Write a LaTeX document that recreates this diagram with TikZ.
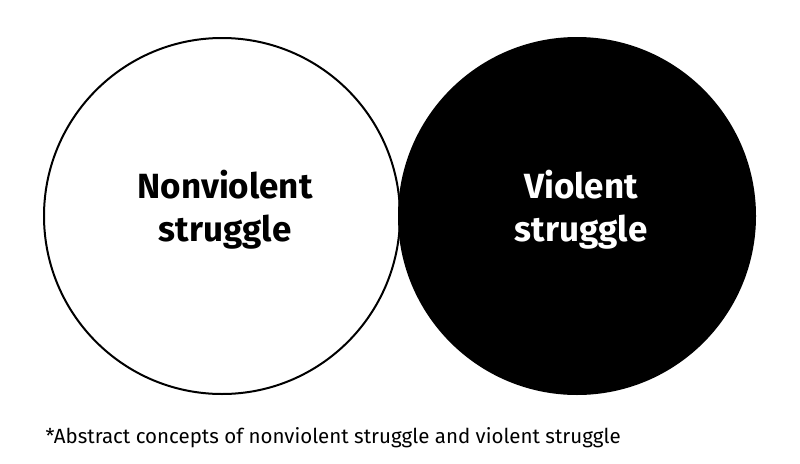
\documentclass[tikz,border=0pt]{standalone}
\usepackage{fontspec}
\setmainfont{Fira Sans}
\begin{document}
\begin{tikzpicture}[x=1pt,y=-1pt,
  circ/.style={circle, draw=black, line width=2pt, minimum size=356pt, inner sep=0pt},
  lbl/.style={font=\fontsize{35}{43}\selectfont\bfseries, align=center}]
\useasboundingbox (0,0) rectangle (800,463);
\node[circ, fill=white] (nv) at (222,216) {};
\node[circ, fill=black] (v) at (577,216) {};
\node[lbl, text=black] (nvt) at (225,210) {Nonviolent\\struggle};
\node[lbl, text=white] (vt) at (581,210) {Violent\\struggle};
\node[anchor=base west, font=\fontsize{20.5}{24}\selectfont] (fn) at (42,443) {*Abstract concepts of nonviolent struggle and violent struggle};
\end{tikzpicture}
\end{document}
